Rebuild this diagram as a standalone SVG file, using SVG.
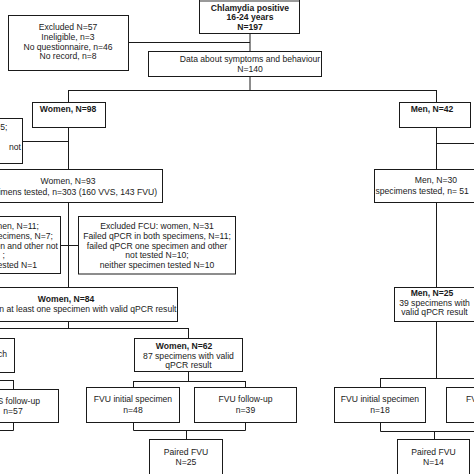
<svg xmlns="http://www.w3.org/2000/svg" width="474" height="474" viewBox="0 0 474 474">
<style>
.b{fill:#fff;stroke:#1a1a1a;stroke-width:1}
.c{fill:none;stroke:#1a1a1a;stroke-width:1}
text{font-family:"Liberation Sans",Arial,sans-serif;font-size:8.6px;fill:#1a1a1a;text-anchor:middle}
.bd{font-weight:bold}
.e{text-anchor:end}
.s{text-anchor:start}
</style>
<rect width="474" height="474" fill="#fff"/>
<g id="connectors">
<path class="c" d="M250,34V51M128.5,42.5H250M250,76V90.5M68.5,90.5H436.5M68.5,90V102M436.5,90V102"/>
<path class="c" d="M68.5,127V169M22,141.5H68.5M68.5,202V287M60,245.5H78"/>
<path class="c" d="M68.5,321V328.5M0,328.5H188.5M188.5,328V338"/>
<path class="c" d="M0,380.5H13.5M13.5,380V389M13.5,422V430.5M0,430.5H13.5"/>
<path class="c" d="M188.5,371V381.5M133.5,381.5H245.5M133.5,381V387M245.5,381V387"/>
<path class="c" d="M133.5,422V430.5M245.5,422V430.5M133.5,430.5H245.5M186.5,430V439"/>
<path class="c" d="M436.5,127V169M436.5,143.5H474M436.5,203V287M436.5,321V378.5M380.5,378.5H474M380.5,378V387M380.5,422V431.5M380.5,431.5H474M434.5,431V439"/>
</g>
<g id="n_top">
<rect class="b" x="199.5" y="-1" width="100" height="34.5"/>
<rect x="200" y="0" width="99" height="2" fill="#999"/>
<text class="bd" x="250" y="10.5">Chlamydia positive</text>
<text class="bd" x="250" y="20">16-24 years</text>
<text class="bd" x="250" y="29.5">N=197</text>
</g>
<g id="n_excl">
<rect class="b" x="8.5" y="15.5" width="120" height="55"/>
<text x="68" y="30">Excluded N=57</text>
<text x="68" y="39.5">Ineligible, n=3</text>
<text x="68" y="49.5">No questionnaire, n=46</text>
<text x="68" y="59">No record, n=8</text>
</g>
<g id="n_data">
<rect class="b" x="148.5" y="51.5" width="173" height="25"/>
<text x="250" y="61.5">Data about symptoms and behaviour</text>
<text x="250" y="71.5">N=140</text>
</g>
<g id="n_w98">
<rect class="b" x="32.5" y="102.5" width="73" height="25"/>
<text class="bd" x="68" y="112">Women, N=98</text>
</g>
<g id="n_m42">
<rect class="b" x="399.5" y="102.5" width="71" height="25"/>
<text class="bd" x="432" y="111.5">Men, N=42</text>
</g>
<g id="n_wex1">
<rect class="b" x="-20" y="118.5" width="42.5" height="45"/>
<text class="e" x="7.5" y="130">5;</text>
<text class="e" x="21" y="150">not</text>
</g>
<g id="n_w93">
<rect class="b" x="-40" y="169.5" width="202.5" height="33"/>
<text x="68" y="184">Women, N=93</text>
<text class="e" x="157" y="194.5">specimens tested, n=303 (160 VVS, 143 FVU)</text>
</g>
<g id="n_m30">
<rect class="b" x="374.5" y="169.5" width="130" height="33"/>
<text x="436" y="183">Men, N=30</text>
<text class="s" x="375.5" y="194">specimens tested, n= 51</text>
</g>
<g id="n_wex2">
<rect class="b" x="-100" y="216.5" width="160.5" height="57"/>
<text class="e" x="39" y="229">women, N=11;</text>
<text class="e" x="53" y="239">specimens, N=7;</text>
<text class="e" x="58" y="248.5">specimen and other not</text>
<text class="e" x="5" y="258">;</text>
<text class="e" x="37" y="267.5">tested N=1</text>
</g>
<g id="n_wex3">
<rect class="b" x="78.5" y="216.5" width="157" height="57.5"/>
<text x="157" y="229">Excluded FCU: women, N=31</text>
<text x="157" y="239">Failed qPCR in both specimens, N=11;</text>
<text x="157" y="248.5">failed qPCR one specimen and other</text>
<text x="157" y="258">not tested N=10;</text>
<text x="157" y="267.5">neither specimen tested N=10</text>
</g>
<g id="n_w84">
<rect class="b" x="-40" y="287.5" width="217.5" height="34"/>
<text class="bd" x="66" y="302">Women, N=84</text>
<text class="e" x="176.5" y="312">n at least one specimen with valid qPCR result</text>
</g>
<g id="n_m25">
<rect class="b" x="394.5" y="287.5" width="90" height="34"/>
<text class="bd" x="432" y="295.5">Men, N=25</text>
<text x="434.5" y="306">39 specimens with</text>
<text x="434.5" y="315">valid  qPCR result</text>
</g>
<g id="n_wvvs">
<rect class="b" x="-40" y="338.5" width="54.5" height="34"/>
<text class="e" x="7" y="357">ch</text>
</g>
<g id="n_w62">
<rect class="b" x="134.5" y="338.5" width="108" height="33"/>
<text class="bd" x="184" y="348.5">Women, N=62</text>
<text x="188.5" y="359">87 specimens with valid</text>
<text x="188.5" y="367.5">qPCR result</text>
</g>
<g id="n_vvsfu">
<rect class="b" x="-40" y="389.5" width="98.5" height="33"/>
<text x="13" y="404">VVS follow-up</text>
<text x="13" y="413.5">n=57</text>
</g>
<g id="n_wfvui">
<rect class="b" x="86.5" y="387.5" width="93" height="35"/>
<text x="133" y="402">FVU initial specimen</text>
<text x="133" y="413">n=48</text>
</g>
<g id="n_wfvuf">
<rect class="b" x="194.5" y="387.5" width="102" height="35"/>
<text x="245.5" y="402">FVU follow-up</text>
<text x="245.5" y="413">n=39</text>
</g>
<g id="n_mfvui">
<rect class="b" x="334.5" y="387.5" width="91" height="35"/>
<text x="380" y="402">FVU initial specimen</text>
<text x="380" y="413">n=18</text>
</g>
<g id="n_mfvuf">
<rect class="b" x="446.5" y="387.5" width="93" height="35"/>
<text x="493" y="402">FVU follow-up</text>
</g>
<g id="n_wpair">
<rect class="b" x="149.5" y="439.5" width="73" height="40"/>
<text x="186" y="455">Paired FVU</text>
<text x="186" y="464.5">N=25</text>
</g>
<g id="n_mpair">
<rect class="b" x="397.5" y="439.5" width="72" height="40"/>
<text x="433.5" y="455">Paired FVU</text>
<text x="433.5" y="464.5">N=14</text>
</g>
</svg>
